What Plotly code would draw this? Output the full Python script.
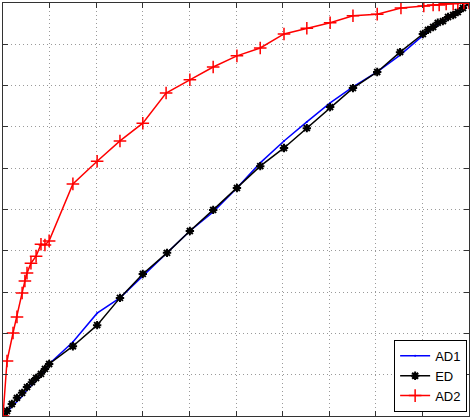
import plotly.graph_objects as go

# AD2 (red, '+')
ad2_x = [0, 0.0086, 0.0215, 0.030, 0.041, 0.047, 0.0515, 0.060, 0.071, 0.0815, 0.090, 0.099,
         0.150, 0.202, 0.251, 0.300, 0.350, 0.401, 0.451, 0.502, 0.552, 0.603, 0.652, 0.702,
         0.751, 0.803, 0.854, 0.903, 0.923, 0.936, 0.951, 0.966, 0.976, 0.989, 1.0]
ad2_y = [0, 0.133, 0.201, 0.240, 0.298, 0.327, 0.346, 0.370, 0.387, 0.416, 0.414, 0.424,
         0.562, 0.617, 0.666, 0.709, 0.782, 0.814, 0.845, 0.872, 0.891, 0.925, 0.939, 0.952,
         0.969, 0.973, 0.988, 0.993, 0.995, 0.995, 0.998, 0.998, 1.0, 1.0, 1.0]

# ED (black, '*')
ed_x = [0, 0.0086, 0.019, 0.030, 0.041, 0.0515, 0.062, 0.071, 0.0815, 0.090, 0.099,
        0.150, 0.202, 0.251, 0.300, 0.352, 0.401, 0.451, 0.502, 0.552, 0.603, 0.652, 0.702,
        0.751, 0.803, 0.852, 0.901, 0.912, 0.923, 0.933, 0.944, 0.955, 0.966, 0.976, 0.987, 1.0]
ed_y = [0, 0.012, 0.029, 0.044, 0.056, 0.070, 0.082, 0.092, 0.102, 0.114, 0.126,
        0.169, 0.220, 0.286, 0.344, 0.395, 0.448, 0.499, 0.552, 0.605, 0.649, 0.697, 0.748,
        0.794, 0.833, 0.881, 0.925, 0.935, 0.942, 0.952, 0.956, 0.966, 0.971, 0.978, 0.988, 1.0]

# AD1 (blue, '.')
ad1_x = [0, 0.0086, 0.019, 0.030, 0.041, 0.0515, 0.062, 0.071, 0.0815, 0.090, 0.099,
         0.150, 0.202, 0.251, 0.300, 0.352, 0.401, 0.451, 0.502, 0.552, 0.603, 0.652, 0.702,
         0.751, 0.803, 0.852, 0.903, 0.912, 0.923, 0.933, 0.944, 0.955, 0.966, 0.976, 0.987, 1.0]
ad1_y = [0, 0.010, 0.024, 0.036, 0.048, 0.063, 0.075, 0.087, 0.097, 0.111, 0.126,
         0.179, 0.249, 0.286, 0.339, 0.395, 0.448, 0.494, 0.552, 0.613, 0.666, 0.712, 0.758,
         0.797, 0.833, 0.874, 0.925, 0.932, 0.939, 0.947, 0.954, 0.964, 0.971, 0.978, 0.988, 1.0]

fig = go.Figure()
fig.add_trace(go.Scatter(x=ad1_x, y=ad1_y, name="AD1", mode="lines+markers",
                         line=dict(color="#0000ff", width=1.5),
                         marker=dict(symbol="circle", size=2, color="#0000ff")))
fig.add_trace(go.Scatter(x=ed_x, y=ed_y, name="ED", mode="lines+markers",
                         line=dict(color="#000000", width=1.5),
                         marker=dict(symbol="asterisk-open", size=7,
                                     line=dict(color="#000000", width=2))))
fig.add_trace(go.Scatter(x=ad2_x, y=ad2_y, name="AD2", mode="lines+markers",
                         line=dict(color="#ff0000", width=1.5),
                         marker=dict(symbol="cross-thin-open", size=9,
                                     line=dict(color="#ff0000", width=1.5))))

axis_common = dict(range=[0, 1], dtick=0.1, showgrid=True, gridcolor="#9a9a9a",
                   griddash="1px,3px", gridwidth=1, zeroline=False, showline=True,
                   linecolor="#333333", linewidth=1, mirror="ticks", ticks="inside",
                   ticklen=5, tickcolor="#333333", showticklabels=False)

fig.update_layout(
    width=474, height=420,
    margin=dict(l=3, r=5, t=3, b=4),
    paper_bgcolor="white", plot_bgcolor="white",
    xaxis=axis_common, yaxis=axis_common,
    legend=dict(x=0.996, y=0.010, xanchor="right", yanchor="bottom",
                bordercolor="#000000", borderwidth=1, bgcolor="white",
                font=dict(family="Liberation Sans, Arial", size=13, color="#000000"),
                tracegroupgap=0, itemwidth=30),
    showlegend=True,
)

fig.write_html("out.html", config={"displayModeBar": False},
               post_script="document.body.style.margin='0';")
